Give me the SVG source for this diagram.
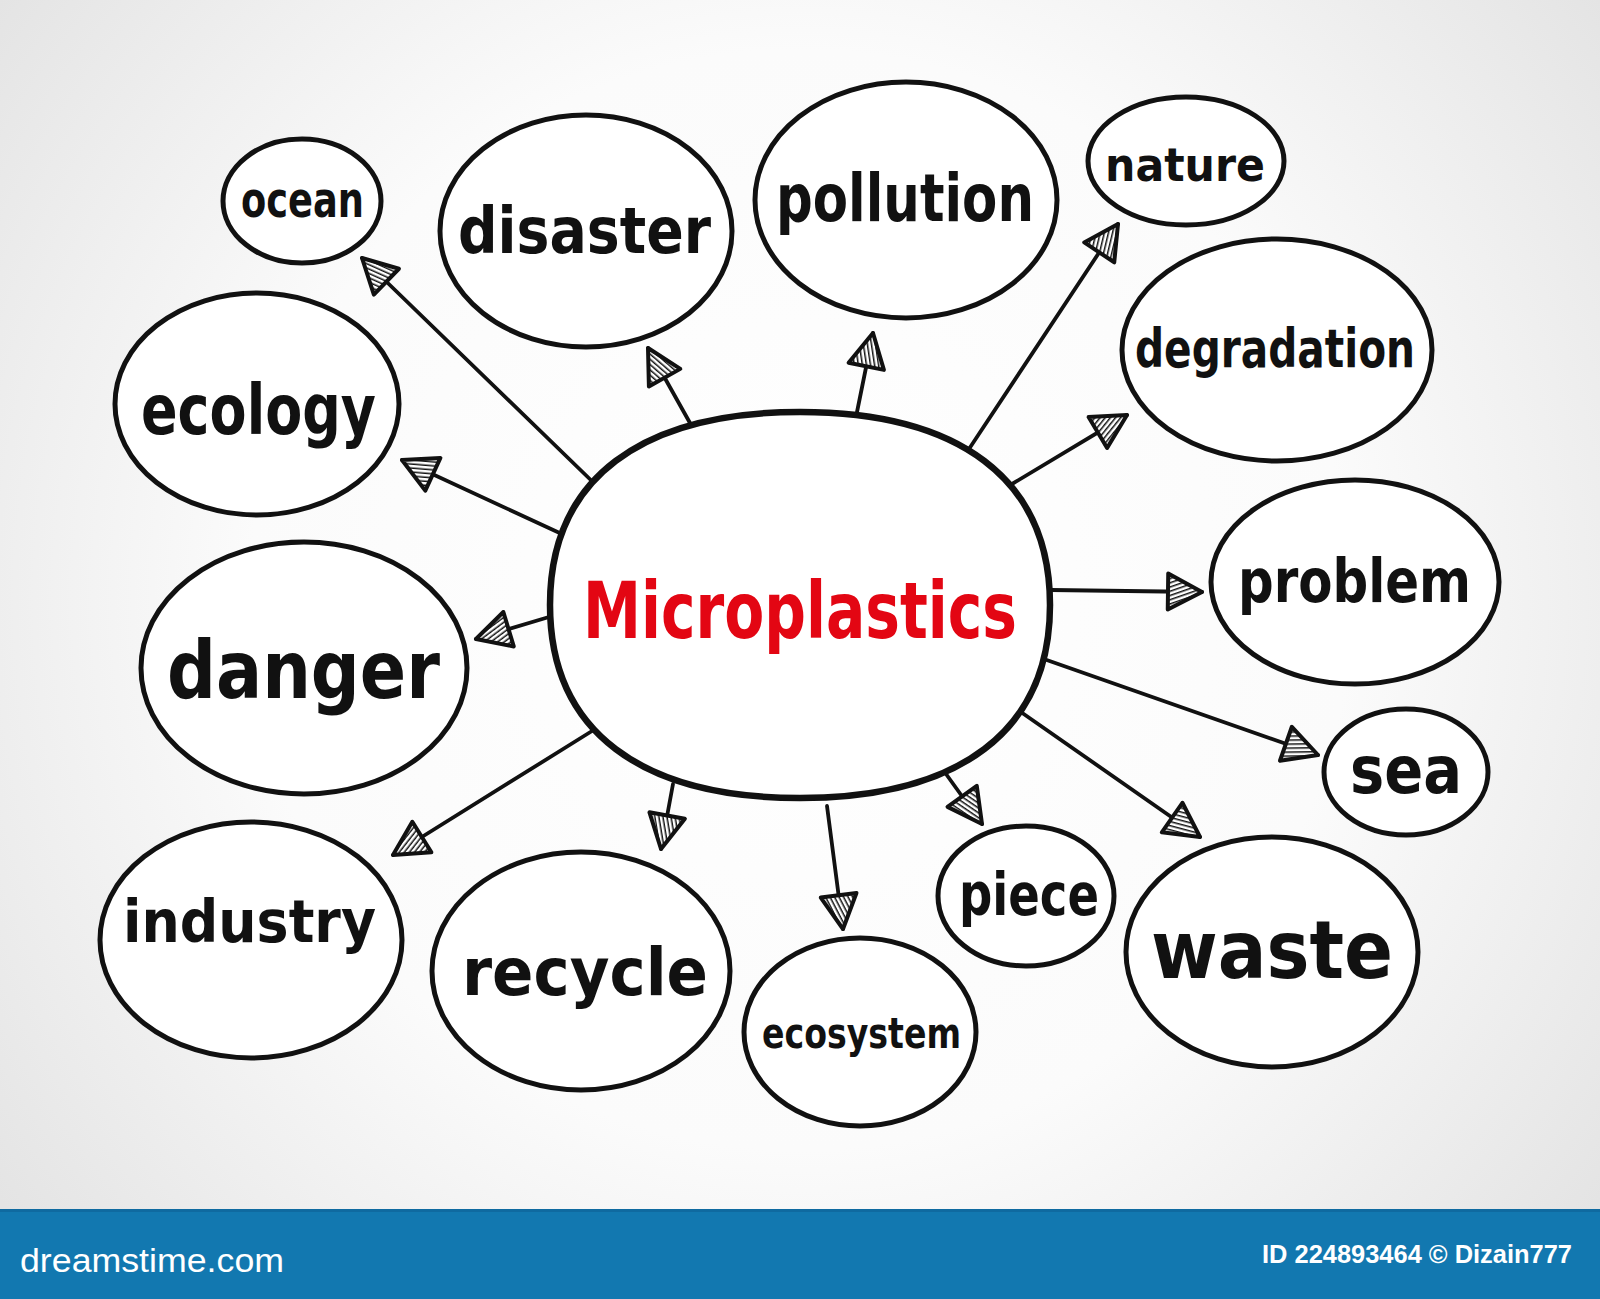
<svg xmlns="http://www.w3.org/2000/svg" width="1600" height="1299" viewBox="0 0 1600 1299">
<defs>
<radialGradient id="bg" cx="800" cy="600" r="1000" gradientUnits="userSpaceOnUse">
<stop offset="0" stop-color="#ffffff"/>
<stop offset="0.55" stop-color="#fbfbfb"/>
<stop offset="1" stop-color="#e4e4e4"/>
</radialGradient>
<pattern id="hatch" patternUnits="userSpaceOnUse" width="4" height="4" patternTransform="rotate(70)">
<rect width="4" height="4" fill="#ffffff"/>
<line x1="0" y1="0" x2="0" y2="4" stroke="#111" stroke-width="3"/>
</pattern>
<marker id="arr" markerUnits="userSpaceOnUse" viewBox="-40 -24 46 48" markerWidth="46" markerHeight="48" refX="0" refY="0" orient="auto">
<path d="M0,0 L-34,-18 L-34,18 Z" fill="url(#hatch)" stroke="#111" stroke-width="4" stroke-linejoin="round"/>
</marker>
</defs>
<style>
.node{fill:#ffffff;stroke:#111;stroke-width:5}
.lbl{font-family:"DejaVu Sans","Liberation Sans",sans-serif;font-weight:bold;fill:#111}
.conn line{stroke:#111;stroke-width:3.8;stroke-linecap:round}
.bar{font-family:"Liberation Sans","DejaVu Sans",sans-serif;fill:#ffffff}
</style>
<rect x="0" y="0" width="1600" height="1210" fill="url(#bg)"/>

<g id="connectors" class="conn">
<line x1="598" y1="487" x2="362" y2="258" marker-end="url(#arr)"/>
<line x1="690" y1="423" x2="648" y2="348" marker-end="url(#arr)"/>
<line x1="857" y1="412" x2="873" y2="333" marker-end="url(#arr)"/>
<line x1="969" y1="449" x2="1118" y2="224" marker-end="url(#arr)"/>
<line x1="1012" y1="484" x2="1127" y2="415" marker-end="url(#arr)"/>
<line x1="1051" y1="590" x2="1202" y2="592" marker-end="url(#arr)"/>
<line x1="1041" y1="658" x2="1318" y2="755" marker-end="url(#arr)"/>
<line x1="1018" y1="710" x2="1200" y2="837" marker-end="url(#arr)"/>
<line x1="941" y1="767" x2="982" y2="824" marker-end="url(#arr)"/>
<line x1="827" y1="806" x2="843" y2="929" marker-end="url(#arr)"/>
<line x1="673" y1="784" x2="661" y2="849" marker-end="url(#arr)"/>
<line x1="592" y1="731" x2="393" y2="855" marker-end="url(#arr)"/>
<line x1="549" y1="617" x2="476" y2="639" marker-end="url(#arr)"/>
<line x1="564" y1="535" x2="402" y2="460" marker-end="url(#arr)"/>
</g>

<g id="center">
<path d="M800,412 C958,412 1050,478 1050,605 C1050,732 958,798 800,798 C642,798 550,732 550,605 C550,478 642,412 800,412 Z" fill="#ffffff" stroke="#111" stroke-width="6.5"/>
<text x="583" y="638" font-size="78" textLength="434" lengthAdjust="spacingAndGlyphs" style="font-family:'DejaVu Sans','Liberation Sans',sans-serif;font-weight:bold;fill:#e30613">Microplastics</text>
</g>

<g id="n-ocean"><ellipse class="node" cx="302" cy="201" rx="79" ry="62"/><text class="lbl" x="241" y="217" font-size="50" textLength="123" lengthAdjust="spacingAndGlyphs">ocean</text></g>
<g id="n-disaster"><ellipse class="node" cx="586" cy="231" rx="146" ry="116"/><text class="lbl" x="458" y="253" font-size="64" textLength="253" lengthAdjust="spacingAndGlyphs">disaster</text></g>
<g id="n-pollution"><ellipse class="node" cx="906" cy="200" rx="151" ry="118"/><text class="lbl" x="776" y="221" font-size="66" textLength="258" lengthAdjust="spacingAndGlyphs">pollution</text></g>
<g id="n-nature"><ellipse class="node" cx="1186" cy="161" rx="98" ry="64"/><text class="lbl" x="1105" y="181" font-size="46" textLength="160" lengthAdjust="spacingAndGlyphs">nature</text></g>
<g id="n-degradation"><ellipse class="node" cx="1277" cy="350" rx="155" ry="111"/><text class="lbl" x="1135" y="367" font-size="54" textLength="280" lengthAdjust="spacingAndGlyphs">degradation</text></g>
<g id="n-ecology"><ellipse class="node" cx="257" cy="404" rx="142" ry="111"/><text class="lbl" x="141" y="434" font-size="70" textLength="235" lengthAdjust="spacingAndGlyphs">ecology</text></g>
<g id="n-problem"><ellipse class="node" cx="1355" cy="582" rx="144" ry="102"/><text class="lbl" x="1238" y="602" font-size="60" textLength="233" lengthAdjust="spacingAndGlyphs">problem</text></g>
<g id="n-danger"><ellipse class="node" cx="304" cy="668" rx="163" ry="126"/><text class="lbl" x="167" y="698" font-size="80" textLength="273" lengthAdjust="spacingAndGlyphs">danger</text></g>
<g id="n-sea"><ellipse class="node" cx="1406" cy="772" rx="82" ry="63"/><text class="lbl" x="1350" y="793" font-size="66" textLength="112" lengthAdjust="spacingAndGlyphs">sea</text></g>
<g id="n-industry"><ellipse class="node" cx="251" cy="940" rx="151" ry="118"/><text class="lbl" x="123" y="942" font-size="58" textLength="253" lengthAdjust="spacingAndGlyphs">industry</text></g>
<g id="n-recycle"><ellipse class="node" cx="581" cy="971" rx="149" ry="119"/><text class="lbl" x="462" y="995" font-size="66" textLength="246" lengthAdjust="spacingAndGlyphs">recycle</text></g>
<g id="n-ecosystem"><ellipse class="node" cx="860" cy="1032" rx="116" ry="94"/><text class="lbl" x="762" y="1048" font-size="42" textLength="199" lengthAdjust="spacingAndGlyphs">ecosystem</text></g>
<g id="n-piece"><ellipse class="node" cx="1026" cy="896" rx="88" ry="70"/><text class="lbl" x="959" y="915" font-size="58" textLength="140" lengthAdjust="spacingAndGlyphs">piece</text></g>
<g id="n-waste"><ellipse class="node" cx="1272" cy="952" rx="146" ry="115"/><text class="lbl" x="1151" y="978" font-size="80" textLength="242" lengthAdjust="spacingAndGlyphs">waste</text></g>

<g id="footer">
<rect x="0" y="1209" width="1600" height="90" fill="#1278b0"/>
<rect x="0" y="1209" width="1600" height="3" fill="#0f6aa0"/>
<text class="bar" x="20" y="1272" font-size="34" textLength="264" lengthAdjust="spacingAndGlyphs">dreamstime.com</text>
<text class="bar" x="1572" y="1263" font-size="26" font-weight="bold" text-anchor="end" textLength="310" lengthAdjust="spacingAndGlyphs">ID 224893464 © Dizain777</text>
</g>
</svg>
